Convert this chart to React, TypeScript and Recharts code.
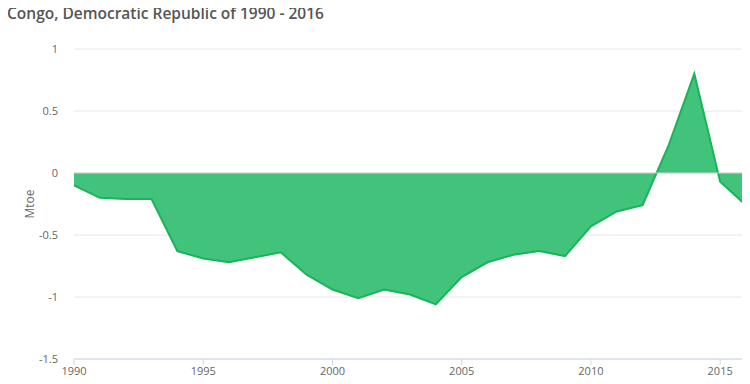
import { AreaChart, Area, XAxis, YAxis, CartesianGrid, ReferenceLine, Label } from 'recharts';

const years = [
    1990, 1991, 1992, 1993, 1994, 1995, 1996, 1997, 1998, 1999, 2000, 2001, 2002, 2003,
    2004, 2005, 2006, 2007, 2008, 2009, 2010, 2011, 2012, 2013, 2014, 2015, 2016,
];
const values = [
    -0.1, -0.2, -0.21, -0.21, -0.63, -0.69, -0.72, -0.68, -0.64, -0.82, -0.94, -1.01, -0.94, -0.98,
    -1.06, -0.84, -0.72, -0.66, -0.63, -0.67, -0.43, -0.31, -0.26, 0.22, 0.8, -0.07, -0.26,
];
const xTicks = [1990, 1995, 2000, 2005, 2010, 2015];
const yTicks = [-1.5, -1, -0.5, 0, 0.5, 1];

const data = years.map((year, i) => ({ year, value: values[i] }));

const font = '"Open Sans", sans-serif';

export default function App() {
    return (
        <div style={{ position: 'relative', margin: -8, width: 750, height: 384, background: '#fff', fontFamily: font }}>
            <div
                style={{
                    position: 'absolute',
                    zIndex: 1,
                    left: 7,
                    top: 3,
                    height: 20,
                    lineHeight: '20px',
                    fontSize: 15.5,
                    fontWeight: 600,
                    color: '#555',
                    whiteSpace: 'nowrap',
                }}
            >
                Congo, Democratic Republic of 1990 - 2016
            </div>
            <AreaChart width={750} height={384} data={data} margin={{ top: 49, right: 4, bottom: 0, left: 0 }}>
                <CartesianGrid vertical={false} stroke="#e6e6e6" />
                <XAxis
                    dataKey="year"
                    type="number"
                    domain={[1990, 2016]}
                    ticks={xTicks}
                    height={25}
                    stroke="#ccd6eb"
                    tickSize={6}
                    tickMargin={2}
                    tick={{ fill: '#666', fontSize: 11, fontFamily: font }}
                />
                <YAxis
                    type="number"
                    domain={[-1.5, 1]}
                    ticks={yTicks}
                    width={74}
                    axisLine={false}
                    tickLine={false}
                    tickSize={0}
                    tickMargin={16}
                    tick={{ fill: '#666', fontSize: 11, fontFamily: font }}
                >
                    <Label
                        value="Mtoe"
                        angle={-90}
                        position="center"
                        dx={-7}
                        style={{ fill: '#666', fontSize: 12, fontFamily: font }}
                    />
                </YAxis>
                <Area
                    type="linear"
                    dataKey="value"
                    baseValue={0}
                    stroke="#19b35a"
                    strokeWidth={2}
                    fill="#42c37b"
                    fillOpacity={1}
                    isAnimationActive={false}
                />
                <ReferenceLine y={0} stroke="#d0d0d0" />
            </AreaChart>
        </div>
    );
}
